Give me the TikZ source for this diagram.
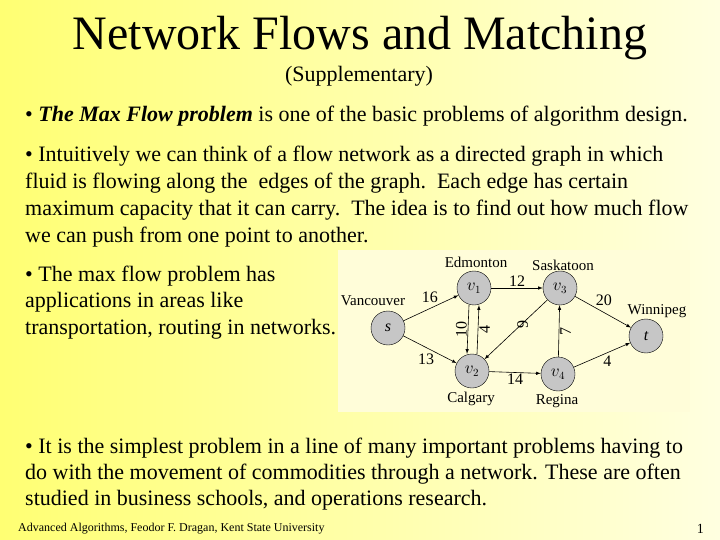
\documentclass[tikz,border=0pt]{standalone}
\usepackage{fontspec}
\setmainfont{Liberation Serif}
\begin{document}
\begin{tikzpicture}[x=1pt,y=-1pt,
  body/.style={anchor=base west,inner sep=0,font=\fontsize{22}{26}\selectfont},
  city/.style={inner sep=0,font=\fontsize{15}{17}\selectfont},
  vert/.style={circle,draw,fill=gray!45,minimum size=34pt,inner sep=0,font=\fontsize{16}{18}\selectfont\itshape},
  edge/.style={->,>=latex,semithick},
  lab/.style={inner sep=1pt,font=\fontsize{16}{18}\selectfont}]
\shade[left color=yellow!55,right color=yellow!12] (0,0) rectangle (720,540);
\useasboundingbox (0,0) rectangle (720,540);
\node[anchor=base,inner sep=0,font=\fontsize{48}{52}\selectfont] (title) at (360,50) {Network Flows and Matching};
\node[anchor=base,inner sep=0,font=\fontsize{22}{26}\selectfont] (sub) at (359,82) {(Supplementary)};
\node[body] (l1) at (25,122) {\textbullet{} \textit{\textbf{The Max Flow problem}} is one of the basic problems of algorithm design.};
\node[body] (l2) at (25,162) {\textbullet{} Intuitively we can think of a flow network as a directed graph in which};
\node[body] (l3) at (25,189) {fluid is flowing along the\ \ edges of the graph.\ \ Each edge has certain};
\node[body] (l4) at (25,215) {maximum capacity that it can carry.\ \ The idea is to find out how much flow};
\node[body] (l5) at (25,242) {we can push from one point to another.};
\node[body] (l6) at (25,281) {\textbullet{} The max flow problem has};
\node[body] (l7) at (25,307) {applications in areas like};
\node[body] (l8) at (25,334) {transportation, routing in networks.};
\node[body] (l9) at (25,453) {\textbullet{} It is the simplest problem in a line of many important problems having to};
\node[body] (l10) at (25,479) {do with the movement of commodities through a network. These are often};
\node[body] (l11) at (25,505) {studied in business schools, and operations research.};
\node[anchor=base west,inner sep=0,font=\fontsize{12}{14}\selectfont] (foot) at (18,531) {Advanced Algorithms, Feodor F. Dragan, Kent State University};
\node[anchor=base east,inner sep=0,font=\fontsize{14}{16}\selectfont] (pg) at (704,533) {1};
\fill[white!85!yellow] (338,250) rectangle (690,412);
\node[vert] (s) at (388,328) {s};
\node[vert] (v1) at (474,288) {$v_1$};
\node[vert] (v3) at (560,288) {$v_3$};
\node[vert] (t) at (646,336) {t};
\node[vert] (v2) at (472,371) {$v_2$};
\node[vert] (v4) at (558,374) {$v_4$};
\node[city] (c1) at (476,262) {Edmonton};
\node[city] (c3) at (563,265) {Saskatoon};
\node[city] (c0) at (373,301) {Vancouver};
\node[city] (ct) at (657,311) {Winnipeg};
\node[city] (c2) at (471,399) {Calgary};
\node[city] (c4) at (557,401) {Regina};
\draw[edge] (s) -- node[lab,above left,pos=0.65] {16} (v1);
\draw[edge] (s) -- node[lab,below left,pos=0.6] {13} (v2);
\draw[edge] (v1) -- node[lab,above] {12} (v3);
\draw[edge] ([xshift=-5pt]v1.south) -- node[lab,rotate=90,anchor=south] {10} ([xshift=-5pt]v2.north);
\draw[edge] ([xshift=5pt]v2.north) -- node[lab,rotate=90,anchor=north] {4} ([xshift=5pt]v1.south);
\draw[edge] (v3) -- node[lab,below right,rotate=90] {9} (v2);
\draw[edge] (v2) -- node[lab,below] {14} (v4);
\draw[edge] (v4) -- node[lab,rotate=90,anchor=north] {7} (v3);
\draw[edge] (v3) -- node[lab,above right,pos=0.35] {20} (t);
\draw[edge] (v4) -- node[lab,below right,pos=0.5] {4} (t);
\end{tikzpicture}
\end{document}
